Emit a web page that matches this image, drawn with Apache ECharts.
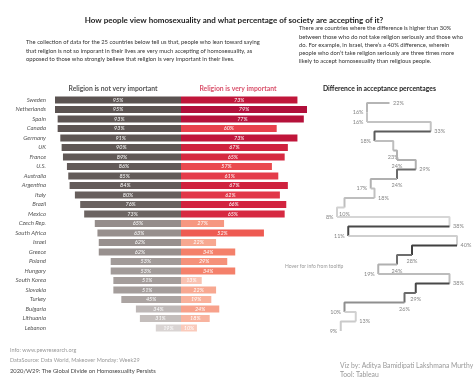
<!DOCTYPE html>
<html><head><meta charset="utf-8">
<script src="https://cdn.jsdelivr.net/npm/echarts@6/dist/echarts.min.js"></script>
<style>html,body{margin:0;padding:0;background:#fff}#c{width:474px;height:379px}</style>
</head><body><div id="c"></div>
<script>
const countries = ['Sweden','Netherlands','Spain','Canada','Germany','UK','France','U.S.','Australia','Argentina','Italy','Brazil','Mexico','Czech Rep.','South Africa','Israel','Greece','Poland','Hungary','South Korea','Slovakia','Turkey','Bulgaria','Lithuania','Lebanon'];
const notImportant = [95,95,93,93,91,90,89,86,85,84,80,76,73,65,63,62,62,53,53,51,51,45,34,31,19];
const veryImportant = [73,79,77,60,73,67,65,57,61,67,62,66,65,27,52,22,34,29,34,13,22,19,24,18,10];
const differences = [22,16,16,33,18,23,24,29,24,17,18,10,8,38,11,40,28,24,19,38,29,26,10,13,9];

function hex(c){return [1,3,5].map(i=>parseInt(c.substr(i,2),16));}
function interp(stops, v){
  if (v<=stops[0][0]) return stops[0][1];
  for (let i=1;i<stops.length;i++){
    if (v<=stops[i][0]){
      const [a,ca]=stops[i-1],[b,cb]=stops[i];
      const t=(v-a)/(b-a), A=hex(ca), B=hex(cb);
      return 'rgb('+A.map((x,k)=>Math.round(x+(B[k]-x)*t)).join(',')+')';
    }
  }
  return stops[stops.length-1][1];
}
const greyStops=[[19,'#d9d4d3'],[45,'#aba4a2'],[65,'#958d8b'],[73,'#6c6462'],[95,'#5b5351']];
const redStops=[[10,'#facabb'],[22,'#f7a891'],[34,'#f4806a'],[52,'#ee5a52'],[60,'#e8414c'],[66,'#d2243f'],[73,'#c0163a'],[79,'#b00f3a']];
const lineStops=[[8,'#d6d6d6'],[24,'#b0b0b0'],[28,'#6e6e6e'],[40,'#404040']];

const chart = echarts.init(document.getElementById('c'));
const rowTop = 95.25, rowH = 237.5, diffTop = 98.25;
const FONT = 'Lato, "Open Sans", sans-serif';

const series = [
  {type:'bar', xAxisIndex:0, yAxisIndex:0, data:notImportant, barWidth:7,
   itemStyle:{color:p=>interp(greyStops,p.value)},
   label:{show:true, position:'inside', formatter:'{c}%', color:'#fff', fontSize:5.5, fontStyle:'italic', fontFamily:FONT}},
  {type:'bar', xAxisIndex:1, yAxisIndex:1, data:veryImportant, barWidth:7,
   itemStyle:{color:p=>interp(redStops,p.value)},
   label:{show:true, position:'inside', formatter:'{c}%', color:'#fff', fontSize:5.5, fontStyle:'italic', fontFamily:FONT}}
];
for (let i=0;i<differences.length-1;i++){
  series.push({type:'line', xAxisIndex:2, yAxisIndex:2, step:'start', symbol:'none', silent:true,
    lineStyle:{width:2, color:interp(lineStops,differences[i])},
    data:[[differences[i],countries[i]],[differences[i+1],countries[i+1]]]});
}
function labelPos(i){
  const v=differences[i], p=differences[i-1], n=differences[i+1];
  if (i===0) return v>=n?'right':'left';
  if (n===undefined) return v>=p?'right':'left';
  if (v>=p && v>=n) return 'right';
  if (v<=p && v<=n) return 'left';
  return 'bottom';
}
series.push({type:'scatter', xAxisIndex:2, yAxisIndex:2, symbolSize:1, silent:true,
  itemStyle:{color:'rgba(0,0,0,0)'},
  data:differences.map((v,i)=>({value:[v,countries[i]], label:{position:labelPos(i)}})),
  label:{show:true, formatter:p=>p.value[0]+'%', fontSize:5.5, color:'#666', fontFamily:FONT, distance:3}});

const txt=(x,y,text,style)=>({type:'text', x, y, silent:true, style:Object.assign({text, fontFamily:FONT, fontSize:5.8, fill:'#333'},style)});

chart.setOption({
  animation:false,
  grid:[
    {left:55, width:126, top:rowTop, height:rowH},
    {left:181, width:126, top:rowTop, height:rowH},
    {left:307, width:150, top:diffTop, height:rowH}
  ],
  xAxis:[
    {gridIndex:0, type:'value', min:0, max:95, inverse:true, show:false},
    {gridIndex:1, type:'value', min:0, max:79, show:false},
    {gridIndex:2, type:'value', min:0, max:40, show:false}
  ],
  yAxis:[
    {gridIndex:0, type:'category', data:countries, inverse:true, position:'left',
     axisLine:{show:false, onZero:false}, axisTick:{show:false}, splitLine:{show:false},
     axisLabel:{margin:9, fontSize:6, fontStyle:'italic', color:'#555', fontFamily:FONT, interval:0}},
    {gridIndex:1, type:'category', data:countries, inverse:true, show:false},
    {gridIndex:2, type:'category', data:countries, inverse:true, show:false}
  ],
  series,
  graphic:[
    txt(234,20,'How people view homosexuality and what percentage of society are accepting of it?',{fontSize:8, fontWeight:'bold', textAlign:'center', textVerticalAlign:'middle', fill:'#222'}),
    txt(26,51,'The collection of data for the 25 countries below tell us that, people who lean toward saying\nthat religion is not so imporant in their lives are very much accepting of homosexuality, as\nopposed to those who strongly believe that religion is very important in their lives.',{lineHeight:8.5, textVerticalAlign:'middle', fill:'#333'}),
    txt(299,45,'There are countries where the difference is higher than 30%\nbetween those who do not take religion seriously and those who\ndo. For example, in Israel, there\u2019s a 40% difference, wherein\npeople who don\u2019t take religion seriously are three times more\nlikely to accept homosexuality than religious people.',{lineHeight:8.3, textVerticalAlign:'middle', fill:'#333'}),
    txt(323,89,'Difference in acceptance percentages',{fontSize:6.8, fontWeight:'bold', textVerticalAlign:'middle', fill:'#222'}),
    txt(113,89,'Religion is not very important',{fontSize:6.8, fontWeight:'bold', textAlign:'center', textVerticalAlign:'middle', fill:'#555'}),
    txt(238,89,'Religion is very important',{fontSize:6.8, fontWeight:'bold', textAlign:'center', textVerticalAlign:'middle', fill:'#d9506a'}),
    txt(285,266,'Hover for info from tooltip',{fontSize:5, textVerticalAlign:'middle', fill:'#999'}),
    txt(10,350,'Info: www.pewresearch.org',{fontSize:5.5, textVerticalAlign:'middle', fill:'#999'}),
    txt(10,360.5,'DataSource: Data World, Makeover Monday: Week29',{fontSize:5.5, textVerticalAlign:'middle', fill:'#999'}),
    txt(10,371,'2020/W29: The Global Divide on Homosexuality Persists',{fontSize:5.8, textVerticalAlign:'middle', fill:'#444'}),
    txt(340,366,'Viz by: Aditya Bamidipati Lakshmana Murthy',{fontSize:6.8, textVerticalAlign:'middle', fill:'#999'}),
    txt(340,375,'Tool: Tableau',{fontSize:6.8, textVerticalAlign:'middle', fill:'#999'})
  ]
});
</script></body></html>
